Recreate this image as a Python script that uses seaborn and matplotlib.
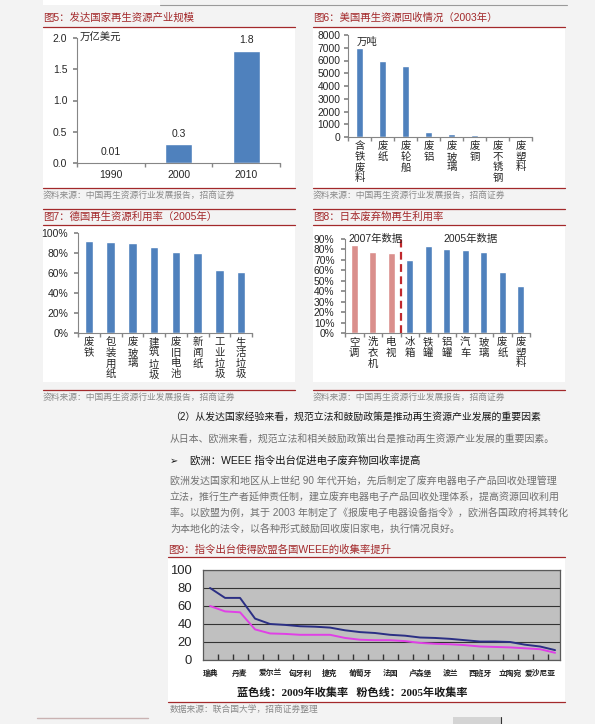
import numpy as np
import pandas as pd
import matplotlib
matplotlib.use('Agg')
import matplotlib.pyplot as plt
import seaborn as sns
from matplotlib.patches import Rectangle
from matplotlib.lines import Line2D
from matplotlib.ticker import FuncFormatter, FixedLocator

# ---------------- data ----------------
fig5_years = ['1990', '2000', '2010']
fig5_values = [0.01, 0.3, 1.8]
fig5_labels = ['0.01', '0.3', '1.8']

fig6_items = ['含铁废料', '废纸', '废轮船', '废铝', '废玻璃', '废铜', '废不锈钢', '废塑料']
fig6_values = [7000, 6000, 5600, 400, 250, 150, 100, 50]

fig7_items = ['废铁', '包装用纸', '废玻璃', '建筑垃圾', '废旧电池', '新闻纸', '工业垃圾', '生活垃圾']
fig7_values = [0.92, 0.91, 0.90, 0.86, 0.81, 0.80, 0.63, 0.61]

fig8_items = ['空调', '洗衣机', '电视', '冰箱', '铁罐', '铝罐', '汽车', '玻璃', '废纸', '废塑料']
fig8_values = [0.84, 0.78, 0.77, 0.70, 0.83, 0.80, 0.79, 0.78, 0.58, 0.45]
fig8_year = ['2007'] * 3 + ['2005'] * 7

fig9_countries = ['瑞典', '丹麦', '爱尔兰', '匈牙利', '捷克', '葡萄牙', '法国',
                  '卢森堡', '波兰', '西班牙', '立陶宛', '爱沙尼亚']
fig9_rate_2009 = [80, 69, 69, 46, 40, 39, 37.5, 37, 36, 33, 31, 30,
                  28, 27, 25, 24.5, 23.5, 22, 20.5, 20.5, 20, 17, 15, 11]
fig9_rate_2005 = [60, 54, 53, 34, 29.5, 29, 28, 28, 28, 24.5, 22.5, 22,
                  22, 21, 19, 18, 17.5, 16.5, 15, 14.5, 14, 13, 12, 8]

# ---------------- style ----------------
sns.set_theme(style='white')
plt.rcParams['font.family'] = ['Liberation Sans', 'Noto Sans CJK SC', 'DejaVu Sans']
plt.rcParams['axes.unicode_minus'] = False

RED = '#A3292B'
BLUE = '#4F81BD'
PINK = '#DA8F8C'
AXC = '#868686'
SRC = '#8a8a8a'

W, H = 595, 724
fig = plt.figure(figsize=(W / 100, H / 100), dpi=100)
fig.patch.set_facecolor('#f3f3f3')


def fy(y):
    return 1 - y / H


def add_ax(l, t, r, b):
    return fig.add_axes([l / W, 1 - b / H, (r - l) / W, (b - t) / H])


def rect(l, t, r, b, color, z=-3, ec='none'):
    fig.add_artist(Rectangle((l / W, 1 - b / H), (r - l) / W, (b - t) / H,
                             transform=fig.transFigure, facecolor=color,
                             edgecolor=ec, zorder=z))


def hline(x1, x2, y, color=RED, lw=0.9, z=-1):
    fig.add_artist(Line2D([x1 / W, x2 / W], [fy(y), fy(y)],
                          transform=fig.transFigure, color=color, lw=lw, zorder=z))


def txt(x, y, s, **kw):
    kw.setdefault('va', 'center')
    fig.text(x / W, fy(y), s, **kw)


def vert(s):
    return '\n'.join(list(s))


def style_bar_ax(ax, n, fs=7.5, ypad=4, xpad=3):
    ax.set_facecolor('none')
    for s in ['top', 'right']:
        ax.spines[s].set_visible(False)
    for s in ['left', 'bottom']:
        ax.spines[s].set_color(AXC)
        ax.spines[s].set_linewidth(0.8)
    ax.set_xlim(-0.5, n - 0.5)
    ax.xaxis.set_minor_locator(FixedLocator(np.arange(-0.5, n, 1.0)))
    ax.tick_params(axis='x', which='major', length=0, pad=xpad, labelsize=fs, bottom=True)
    ax.tick_params(axis='x', which='minor', length=3, color=AXC, direction='out', bottom=True)
    ax.tick_params(axis='y', which='major', length=3, color=AXC, direction='out',
                   labelsize=fs, pad=ypad, left=True)
    ax.set_xlabel('')
    ax.set_ylabel('')


# ---------------- page decorations ----------------
rect(43, 0, 160, 5, 'white')
hline(160, 567, 5, color='#9a9a9a', lw=0.8)

# panels
rect(43, 27, 295, 188, 'white')
rect(313, 27, 565, 188, 'white')
rect(43, 225, 295, 382, 'white')
rect(313, 225, 565, 382, 'white')
rect(168, 557, 565, 702, 'white')

for (x1, x2) in [(43, 295), (313, 565)]:
    hline(x1, x2, 27)
    hline(x1, x2, 188)
    hline(x1, x2, 209)
    hline(x1, x2, 225)
    hline(x1, x2, 390)
hline(168, 565, 557)
hline(168, 565, 702)

tfs = 7.5
txt(43, 18, '图5：发达国家再生资源产业规模', fontsize=tfs, color=RED)
txt(313, 18, '图6：美国再生资源回收情况（2003年）', fontsize=tfs, color=RED)
txt(43, 217, '图7：德国再生资源利用率（2005年）', fontsize=tfs, color=RED)
txt(313, 217, '图8：日本废弃物再生利用率', fontsize=tfs, color=RED)
txt(168, 550, '图9：指令出台使得欧盟各国WEEE的收集率提升', fontsize=tfs, color=RED)

src = '资料来源：中国再生资源行业发展报告，招商证券'
for (x, y) in [(43, 195), (313, 195), (43, 397), (313, 397)]:
    txt(x, y, src, fontsize=6.3, color=SRC)
txt(170, 709, '数据来源：联合国大学，招商证券整理', fontsize=6.3, color=SRC)

# ---------------- Fig 5 ----------------
ax5 = add_ax(77, 38, 280, 163)
df5 = pd.DataFrame({'year': fig5_years, 'value': fig5_values})
sns.barplot(data=df5, x='year', y='value', color=BLUE, saturation=1, width=0.4, ax=ax5)
style_bar_ax(ax5, len(fig5_years), xpad=5)
ax5.set_ylim(0, 2.0)
ax5.set_yticks([0, 0.5, 1.0, 1.5, 2.0])
ax5.yaxis.set_major_formatter(FuncFormatter(lambda v, p: f'{v:.1f}'))
for i, (v, lab) in enumerate(zip(fig5_values, fig5_labels)):
    ax5.annotate(lab, (i, v), xytext=(0, 7.5), textcoords='offset points',
                 ha='center', va='center', fontsize=7.5)
ax5.text(0.015, 1.0, '万亿美元', transform=ax5.transAxes, ha='left', va='center', fontsize=7.5)

# ---------------- Fig 6 ----------------
ax6 = add_ax(348, 35, 532, 137)
df6 = pd.DataFrame({'item': fig6_items, 'value': fig6_values})
sns.barplot(data=df6, x='item', y='value', color=BLUE, saturation=1, width=0.3, ax=ax6)
style_bar_ax(ax6, len(fig6_items), fs=7.4, ypad=2.5)
ax6.set_ylim(0, 8000)
ax6.set_yticks(np.arange(0, 8001, 1000))
ax6.set_xticks(range(len(fig6_items)))
ax6.set_xticklabels([vert(s) for s in fig6_items], va='top', linespacing=1.08, fontsize=7.5)
ax6.text(0.045, 0.93, '万吨', transform=ax6.transAxes, ha='left', va='center', fontsize=7.5)

# ---------------- Fig 7 ----------------
ax7 = add_ax(78, 233, 252, 333)
df7 = pd.DataFrame({'item': fig7_items, 'value': fig7_values})
sns.barplot(data=df7, x='item', y='value', color=BLUE, saturation=1, width=0.4, ax=ax7)
style_bar_ax(ax7, len(fig7_items), fs=7.5, ypad=4)
ax7.set_ylim(0, 1.0)
ax7.set_yticks(np.arange(0, 1.01, 0.2))
ax7.yaxis.set_major_formatter(FuncFormatter(lambda v, p: f'{v * 100:.0f}%'))
ax7.set_xticks(range(len(fig7_items)))
ax7.set_xticklabels([vert(s) for s in fig7_items], va='top', linespacing=1.08, fontsize=7.5)

# ---------------- Fig 8 ----------------
ax8 = add_ax(345, 239, 530, 333)
df8 = pd.DataFrame({'item': fig8_items, 'value': fig8_values, 'year': fig8_year})
sns.barplot(data=df8, x='item', y='value', hue='year', palette={'2007': PINK, '2005': BLUE},
            saturation=1, width=0.4, dodge=False, legend=False, ax=ax8)
style_bar_ax(ax8, len(fig8_items), fs=7.4, ypad=4.5)
ax8.set_ylim(0, 0.9)
ax8.set_yticks(np.arange(0, 0.91, 0.1))
ax8.yaxis.set_major_formatter(FuncFormatter(lambda v, p: f'{v * 100:.0f}%'))
ax8.set_xticks(range(len(fig8_items)))
ax8.set_xticklabels([vert(s) for s in fig8_items], va='top', linespacing=1.08, fontsize=7.5)
n07 = fig8_year.count('2007')
ax8.axvline(n07 - 0.5, ymin=0, ymax=1.03, color='#C0282D', lw=1.6, ls=(0, (3.5, 2)), clip_on=False)
ax8.text(0.02, 1.0, '2007年数据', transform=ax8.transAxes, ha='left', va='center', fontsize=7.5)
ax8.text(0.68, 1.0, '2005年数据', transform=ax8.transAxes, ha='center', va='center', fontsize=7.5)

# ---------------- text block ----------------
dark = '#161616'
body = '#707070'
txt(170, 417, '（2）从发达国家经验来看，规范立法和鼓励政策是推动再生资源产业发展的重要因素',
    fontsize=7.15, color=dark)
txt(170, 439, '从日本、欧洲来看，规范立法和相关鼓励政策出台是推动再生资源产业发展的重要因素。',
    fontsize=7.1, color=body)
txt(170, 461, '➢', fontsize=7, color=dark, family=['DejaVu Sans'])
txt(190, 461, '欧洲：WEEE 指令出台促进电子废弃物回收率提高', fontsize=7.5, color=dark)
para = ['欧洲发达国家和地区从上世纪 90 年代开始，先后制定了废弃电器电子产品回收处理管理',
        '立法，推行生产者延伸责任制，建立废弃电器电子产品回收处理体系，提高资源回收利用',
        '率。以欧盟为例，其于 2003 年制定了《报废电子电器设备指令》，欧洲各国政府将其转化',
        '为本地化的法令，以各种形式鼓励回收废旧家电，执行情况良好。']
for k, line in enumerate(para):
    txt(170, 482 + 15.8 * k, line, fontsize=7.2, color=body)

# ---------------- Fig 9 ----------------
ax9 = add_ax(203, 570, 560, 660)
idx = np.arange(len(fig9_rate_2009))
df9 = pd.DataFrame({'i': np.concatenate([idx, idx]),
                    'rate': fig9_rate_2009 + fig9_rate_2005,
                    'series': ['2009'] * len(idx) + ['2005'] * len(idx)})
sns.lineplot(data=df9, x='i', y='rate', hue='series',
             palette={'2009': '#2B2F84', '2005': '#E040E6'}, linewidth=1.4,
             legend=False, ax=ax9)
ax9.set_facecolor('#C0C0C0')
for s in ax9.spines.values():
    s.set_color('#5a5a5a')
    s.set_linewidth(0.9)
ax9.set_xlim(-0.47, len(idx) - 1 + 0.33)
ax9.set_ylim(0, 100)
ax9.set_yticks(np.arange(0, 101, 20))
ax9.grid(axis='y', color='#333333', lw=0.8)
ax9.set_axisbelow(True)
ax9.set_xticks(np.arange(0, len(idx), 2)[:len(fig9_countries)])
ax9.set_xticklabels(fig9_countries, fontsize=5.6, fontweight='bold', color='#222222')
ax9.xaxis.set_minor_locator(FixedLocator(np.arange(0.5, len(idx) - 0.5, 1.0)))
ax9.tick_params(axis='x', which='major', length=0, pad=7, bottom=True)
ax9.tick_params(axis='x', which='minor', length=4, direction='in', color='#333333', bottom=True)
ax9.tick_params(axis='y', which='major', length=0, labelsize=9.4, pad=8)
ax9.set_xlabel('')
ax9.set_ylabel('')
txt(237, 693, '蓝色线：2009年收集率   粉色线：2005年收集率', fontsize=8, fontweight='bold',
    color='#1a1a1a', family=['Liberation Serif', 'Noto Sans CJK SC'])

# ---------------- bottom page bits ----------------
hline(37, 148, 718, color='#c9b2b2', lw=1.0)
rect(453, 717, 501, 724, '#d4d4d4', z=-2)
fig.add_artist(Line2D([501 / W, 501 / W], [fy(717), fy(724)], transform=fig.transFigure,
                      color='#333333', lw=0.8))

fig.savefig('out.png', dpi=100, facecolor=fig.get_facecolor())
